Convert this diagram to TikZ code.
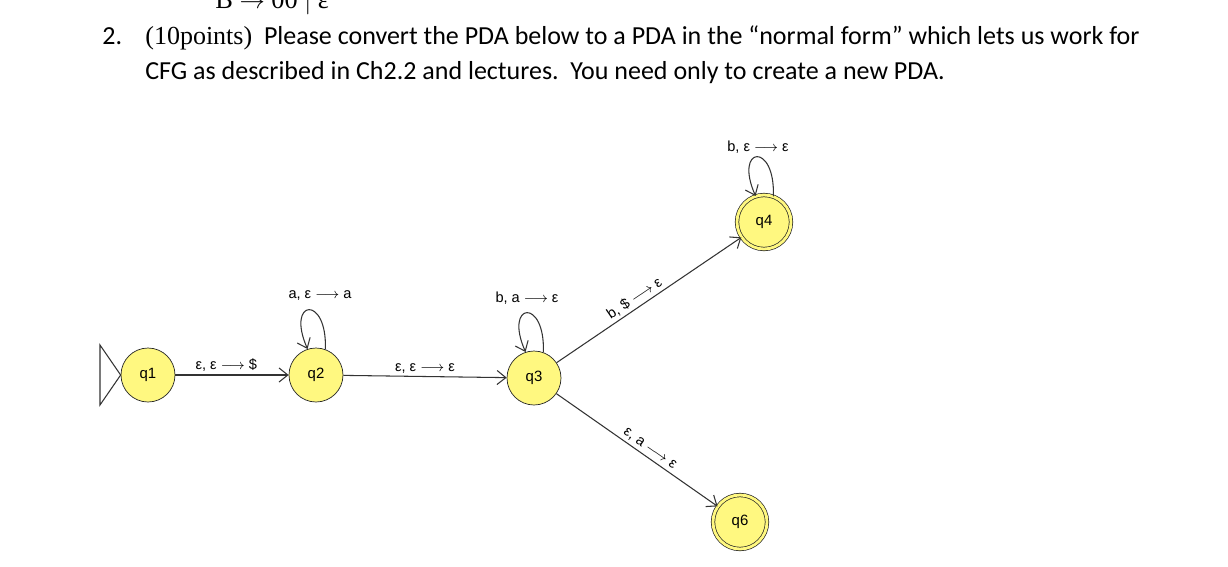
\documentclass[tikz,border=0pt]{standalone}
\usepackage{fontspec}
\setmainfont{Carlito}
\newfontfamily\tnr{Liberation Serif}
\newfontfamily\arl{Liberation Sans}
\usetikzlibrary{arrows.meta}
\begin{document}
\begin{tikzpicture}[x=0.02cm,y=-0.02cm,
  st/.style={circle,draw=black!85,fill=yellow!50,minimum size=54*0.02cm,inner sep=0pt,font=\arl\fontsize{8.5}{9}\selectfont},
  acc/.style={st,double=yellow!50,double distance=1.6pt},
  tr/.style={draw=black!80,line width=0.6pt,-{Straight Barb[length=5pt,width=8pt]}},
  lb/.style={font=\arl\fontsize{8.3}{9}\selectfont,inner sep=1.5pt},
  hd/.style={anchor=base west,inner sep=0pt,font=\fontsize{14.8}{16}\selectfont}]
\useasboundingbox (0,0) rectangle (1228,566);
\node[anchor=base west,inner sep=0pt,font=\tnr\fontsize{15}{16}\selectfont] (top) at (215,8) {B $\rightarrow$ 00 $|$ ε};
\node[hd] (n2) at (102,44) {2.};
\node[hd] (l1) at (145,44) {{\tnr (10points)}\ \ Please convert the PDA below to a PDA in the “normal form” which lets us work for};
\node[hd] (l2) at (145,79) {CFG as described in Ch2.2 and lectures.\ \ You need only to create a new PDA.};
\node[st] (q1) at (148,375) {q1};
\node[st] (q2) at (316,375) {q2};
\node[st] (q3) at (534,378) {q3};
\node[acc] (q4) at (764,222) {q4};
\node[acc] (q6) at (740,522) {q6};
\coordinate (ia) at (100,345);
\coordinate (ib) at (100,405);
\draw[draw=black!80,line width=0.6pt] (ia) -- (q1.west) -- (ib) -- cycle;
\draw[tr] (q1) -- node[lb,above,pos=0.45] {ε, ε $\longrightarrow$ \$} (q2);
\draw[tr] (q2) -- node[lb,above] {ε, ε $\longrightarrow$ ε} (q3);
\draw[tr] (q3) -- node[lb,above,sloped,pos=0.45] {b, \$ $\longrightarrow$ ε} (q4);
\draw[tr] (q3) -- node[lb,above,sloped,pos=0.55] {ε, a $\longrightarrow$ ε} (q6);
\draw[tr] (q2.70) .. controls +(2,-55) and +(-22,-50) .. (q2.108);
\node[lb] (l2l) at (320,296) {a, ε $\longrightarrow$ a};
\draw[tr] (q3.70) .. controls +(2,-55) and +(-22,-50) .. (q3.108);
\node[lb] (l3l) at (527,298) {b, a $\longrightarrow$ ε};
\draw[tr] (q4.70) .. controls +(2,-55) and +(-22,-50) .. (q4.108);
\node[lb] (l4l) at (758,147) {b, ε $\longrightarrow$ ε};
\end{tikzpicture}
\end{document}
